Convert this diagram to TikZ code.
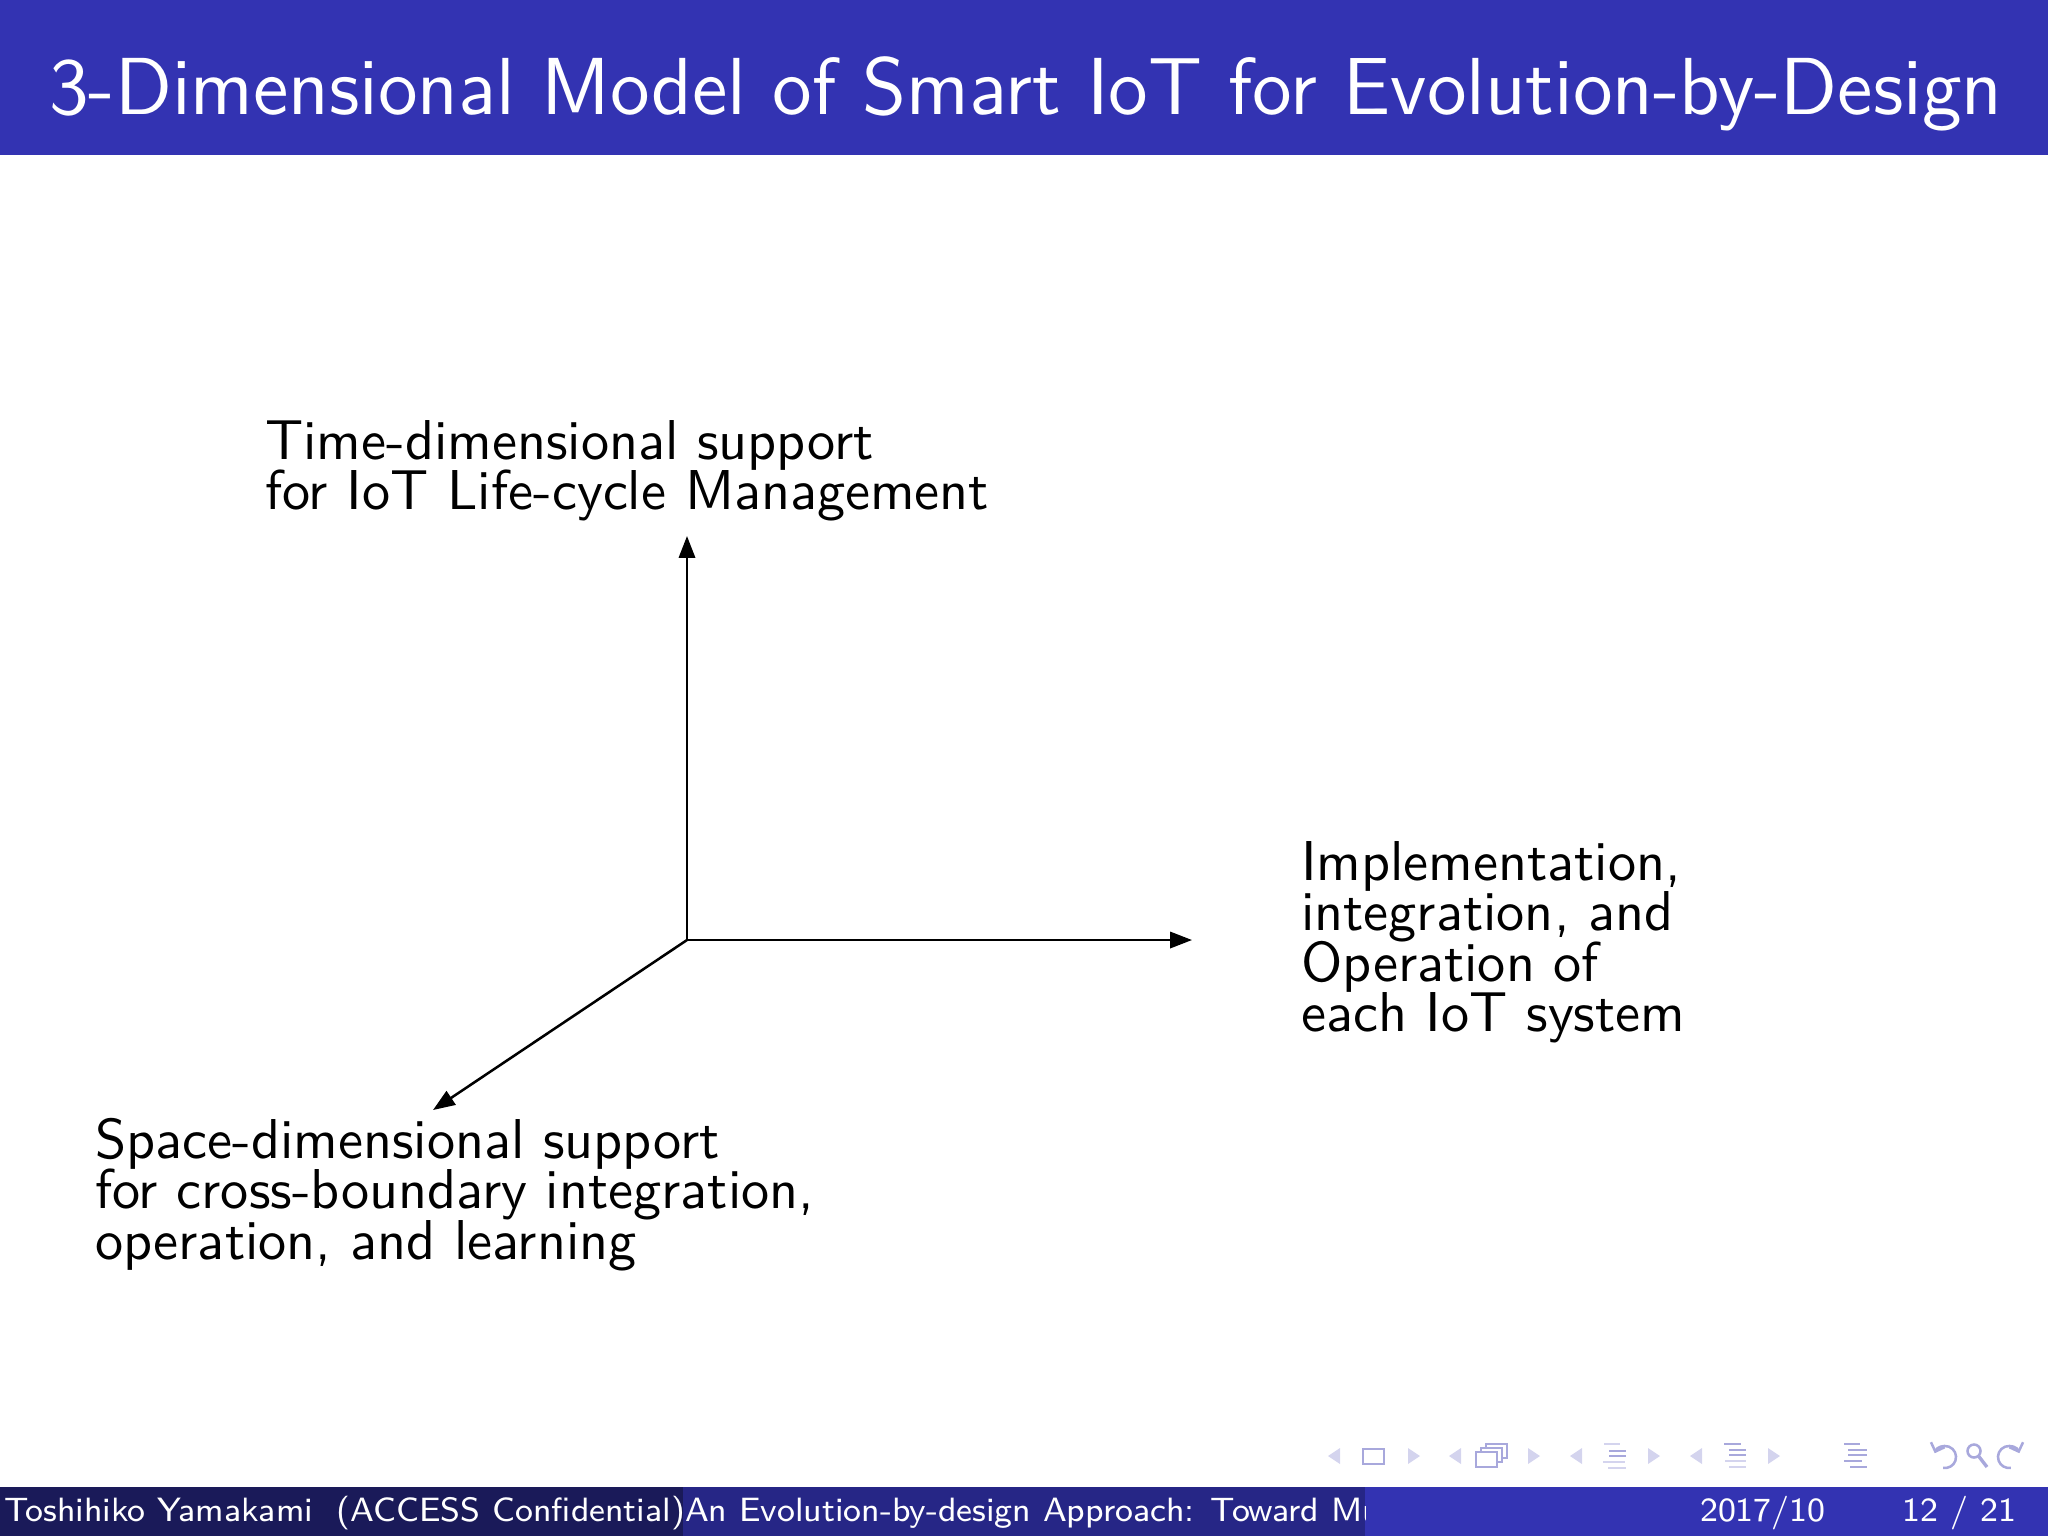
\documentclass[tikz,border=0pt]{standalone}
\usepackage{fontspec}
\usetikzlibrary{arrows.meta}
\definecolor{bblue}{RGB}{51,51,178}
\definecolor{bmid}{RGB}{38,38,134}
\definecolor{bdark}{RGB}{26,26,89}
\definecolor{navc}{RGB}{168,168,220}
\definecolor{navd}{RGB}{212,212,238}
\newcommand\mylines[1]{\vtop{\lineskiplimit=-100pt\relax\lineskip=0pt\relax\baselineskip=9pt\relax #1}}
\tikzset{
  bodytext/.style={anchor=base west, inner sep=0pt, font=\sffamily\fontsize{10}{9}\selectfont},
  foottext/.style={inner sep=0pt, text=white, font=\sffamily\fontsize{6}{7}\selectfont},
  axis/.style={line width=0.45pt, -{Triangle[length=3.9pt,width=2.9pt]}},
  navtri/.style={fill=navd},
  navline/.style={line width=0.45pt},
  navicon/.style={draw=navc, line width=0.45pt}
}
\begin{document}
\begin{tikzpicture}[x=0.00625cm,y=-0.00625cm]
\useasboundingbox (0,0) rectangle (2048,1536);
% header
\fill[bblue] (0,0) rectangle (2048,155);
\node[anchor=base west, inner sep=0pt, text=white, font=\sffamily\fontsize{14.4}{17}\selectfont] (title) at (48,114) {3-Dimensional Model of Smart IoT for Evolution-by-Design};
% axes
\coordinate (O) at (687,940);
\coordinate (T) at (687,536);
\coordinate (R) at (1192,940);
\coordinate (D) at (433,1110);
\draw[axis] (O) -- (T);
\draw[axis] (O) -- (R);
\draw[axis] (O) -- (D);
% labels
\node[bodytext] (ttime) at (264,459) {\mylines{\hbox{Time-dimensional support}\hbox{for IoT Life-cycle Management}}};
\node[bodytext] (timpl) at (1300,880) {\mylines{\hbox{Implementation,}\hbox{integration, and}\hbox{Operation of}\hbox{each IoT system}}};
\node[bodytext] (tspace) at (94,1158) {\mylines{\hbox{Space-dimensional support}\hbox{for cross-boundary integration,}\hbox{operation, and learning}}};
% footer
\fill[bdark] (0,1487) rectangle (683,1536);
\fill[bmid] (683,1487) rectangle (1365,1536);
\fill[bblue] (1365,1487) rectangle (2048,1536);
\node[foottext, anchor=base west] (fauthor) at (3,1521) {Toshihiko Yamakami~~(ACCESS Confidential)};
\begin{scope}
\clip (683,1487) rectangle (1365,1536);
\node[foottext, anchor=base west] (ftitle) at (684,1521) {An Evolution-by-design Approach: Toward Mu};
\end{scope}
\node[foottext, anchor=base west] (fdate) at (1699,1521) {2017/10};
\node[foottext, anchor=base east] (fpage) at (2017,1521) {12 / 21};
% navigation symbols
\foreach \l/\r in {1328/1408, 1449/1528, 1570/1648, 1690/1768} {
  \fill[navtri] (\l+12,1448) -- (\l,1456) -- (\l+12,1464) -- cycle;
  \fill[navtri] (\r,1448) -- (\r+12,1456) -- (\r,1464) -- cycle;
}
\draw[navicon] (1363,1449) rectangle (1384,1464);
\draw[navicon, fill=white] (1486,1444) rectangle (1507,1458);
\draw[navicon, fill=white] (1481,1448) rectangle (1502,1462);
\draw[navicon, fill=white] (1476,1452) rectangle (1497,1467);
% section icon
\draw[navline, navd] (1604,1444) -- (1620,1444);
\draw[navline, navc] (1609,1451) -- (1626,1451);
\draw[navline, navc] (1609,1456) -- (1626,1456);
\draw[navline, navd] (1603,1462) -- (1625,1462);
\draw[navline, navd] (1608,1468) -- (1626,1468);
% subsection icon
\draw[navline, navc] (1724,1444) -- (1741,1444);
\draw[navline, navc] (1729,1450) -- (1746,1450);
\draw[navline, navc] (1729,1455) -- (1746,1455);
\draw[navline, navd] (1725,1461) -- (1746,1461);
\draw[navline, navd] (1729,1467) -- (1746,1467);
% document icon
\draw[navline, navc] (1844,1444) -- (1860,1444);
\draw[navline, navc] (1848,1450) -- (1867,1450);
\draw[navline, navc] (1848,1455) -- (1867,1455);
\draw[navline, navc] (1844,1461) -- (1862,1461);
\draw[navline, navc] (1850,1467) -- (1867,1467);
% undo, search, redo
\draw[navicon, {Straight Barb[length=1.3pt,width=2.6pt]}-] (1934.7,1453.2) arc[start angle=-160, end angle=100, radius=11];
\draw[navicon] (1974,1451) circle[radius=6.5];
\draw[navicon, line width=0.6pt] (1978.5,1456) -- (1987,1467);
\draw[navicon, {Straight Barb[length=1.3pt,width=2.6pt]}-] (2019.3,1453.2) arc[start angle=-20, end angle=-280, radius=11];
\end{tikzpicture}
\end{document}
